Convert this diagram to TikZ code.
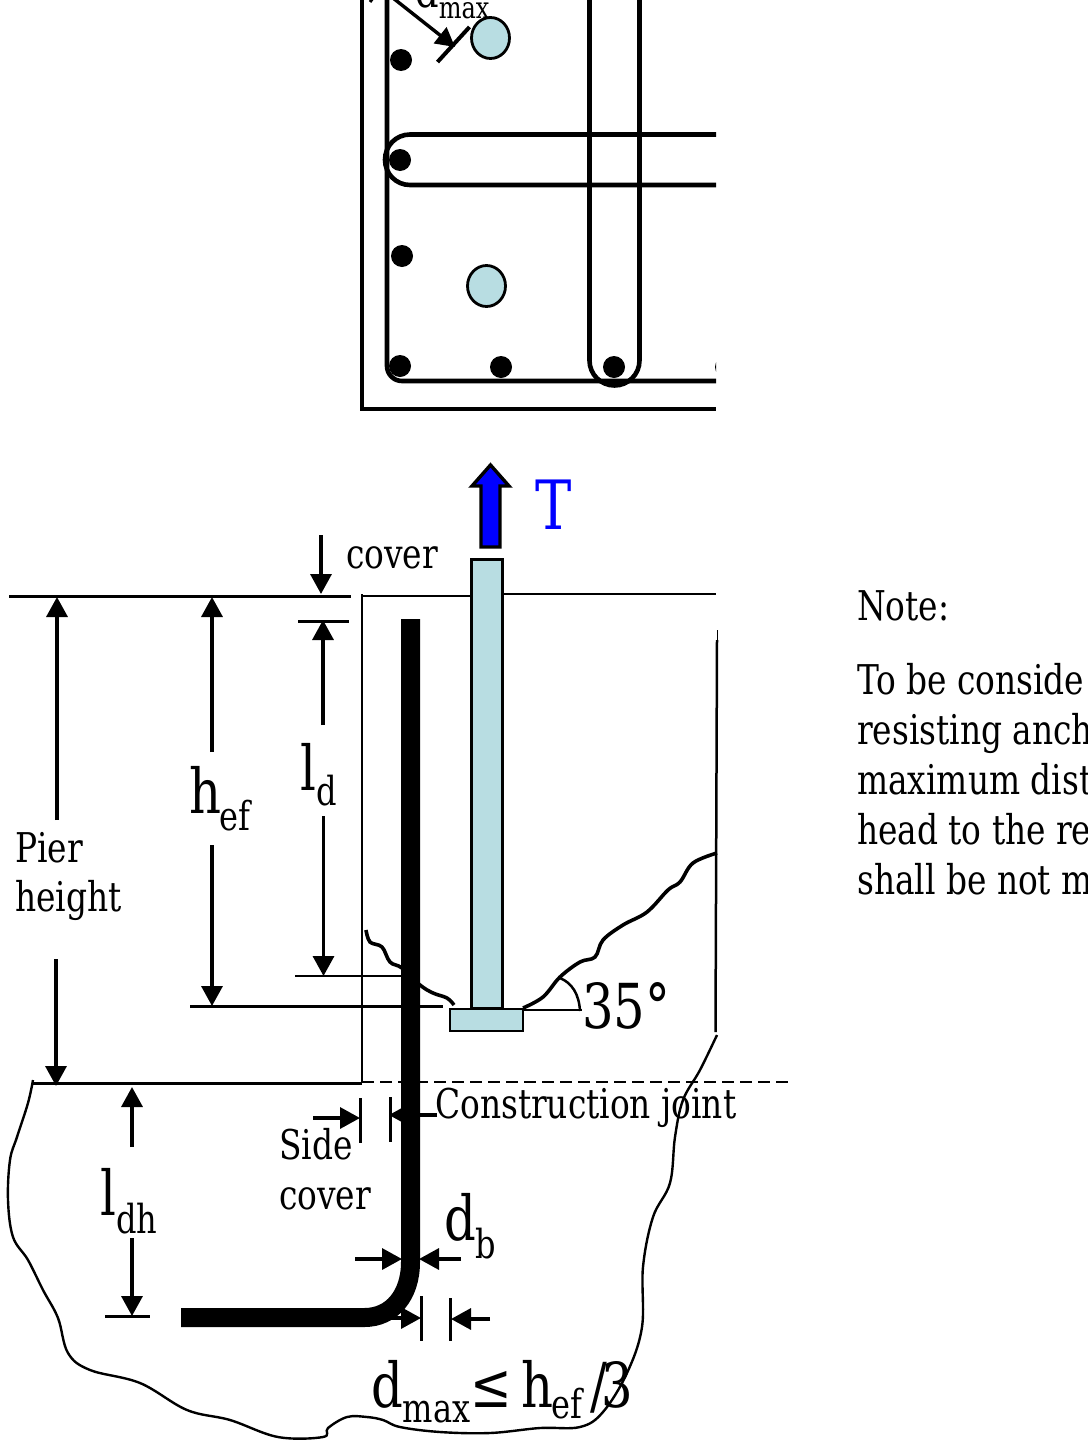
\documentclass[tikz,border=0pt]{standalone}
\usepackage{fontspec}
\setmainfont[FakeStretch=0.89]{DejaVu Serif Condensed}
\usetikzlibrary{arrows.meta}
\definecolor{anchorblue}{RGB}{184,221,226}
\newcommand{\sizedtxt}[1]{\fontsize{#1}{#1}\selectfont}
\newcommand{\subtxt}[3]{#1\raisebox{-#3pt}{\sizedtxt{40}#2}}
\tikzset{
  lbl/.style={inner sep=0,anchor=base west,font=\sizedtxt{41}},
  biglbl/.style={inner sep=0,anchor=base west,font=\sizedtxt{62}},
  dimarrow/.style={line width=3.4pt,-{Triangle[length=20pt,width=21pt]}},
  thick line/.style={line width=4.6pt},
  tick/.style={line width=3pt},
  bar/.style={fill=black},
  anchorbar/.style={fill=anchorblue,draw=black}
}
\begin{document}
\begin{tikzpicture}[x=1pt,y=-1pt]
   \useasboundingbox (0,0) rectangle (1087,1440);
   \clip (0,0) rectangle (1087,1440);
   % plan of the pier
   \begin{scope}
    \clip (340,0) rectangle (716,420);
    \draw[thick line] (362,0) -- (362,409) -- (716,409);
    \draw[thick line] (387,0) -- (387,366) .. controls (387,374.3) and (393.7,381) .. (402,381) -- (716,381);
    \draw[thick line] (716,134.5) -- (410,134.5) .. controls (396,134.5) and (385,145.8) .. (385,159.75) .. controls (385,173.7) and (396,185) .. (410,185) -- (716,185);
    \draw[thick line] (589.5,0) -- (589.5,360.5) .. controls (589.5,374.3) and (600.7,385.5) .. (614.5,385.5) .. controls (628.3,385.5) and (639.5,374.3) .. (639.5,360.5) -- (639.5,0);
    \foreach \x/\y in {401/60,400/160,402/256,400/366,501/367,614/367,726/367}
     \fill[bar] (\x,\y) circle (11);
   \end{scope}
   \draw[anchorbar,line width=2.8pt] (490.5,38) ellipse (19 and 20.5);
   \draw[anchorbar,line width=2.8pt] (486.5,286) ellipse (19 and 20.5);
   \draw[line width=3pt] (370,2) -- (373,-2);
   \draw[line width=3.4pt,-{Triangle[length=19pt,width=20pt]}] (393,-2) -- (455,47);
   \draw[line width=4pt] (437.5,62) -- (469.5,27);
   \node[inner sep=0,anchor=base west,font=\sizedtxt{46}] (dmaxplan) at (415,8) {\subtxt{d}{\sizedtxt{30}max}{11}};
   % section: concrete outline and failure cone
   \draw[line width=2.5pt] (362,596) -- (471,596);
   \draw[line width=2.5pt] (504,594) -- (716,594);
   \draw[line width=2.5pt] (362,594) -- (362,1083);
   \draw[line width=2.5pt] (717,640) -- (715.5,1032);
   \draw[line width=1pt] (717,630) -- (717,640);
   \draw[line width=1.8pt,dash pattern=on 12pt off 6pt] (362,1082) -- (790,1082);
   \draw[line width=2.4pt] plot[smooth,tension=0.6] coordinates {(33,1080) (28,1103) (17,1137) (10,1160) (8,1200) (13,1237) (28,1260) (43,1290) (58,1318) (68,1353) (90,1370) (140,1383) (187,1410) (230,1420) (278,1437) (323,1437) (328,1428) (347,1417) (367,1417) (383,1420) (400,1427) (440,1432) (490,1433) (540,1428) (580,1427) (603,1412) (627,1373) (642,1327) (643,1267) (653,1217) (670,1183) (675,1137) (683,1100) (700,1070) (717,1035)};
   \draw[line width=3.6pt] plot[smooth,tension=0.6] coordinates {(366,930) (370,942) (382,947) (390,962) (402,968) (420,985) (433,993) (447,998) (454,1005)};
   \draw[line width=3.6pt] plot[smooth,tension=0.6] coordinates {(523,1008) (543,997) (560,977) (580,962) (595,957) (603,940) (623,925) (647,912) (668,890) (680,882) (693,863) (717,853)};
   \draw[line width=2.5pt] (523,1010) -- (582,1010);
   \draw[line width=2.5pt] (560,978) .. controls (572,983) and (579,994) .. (580,1011);
   % rebar
   \draw[line width=19pt] (410.5,619) -- (410.5,1262) .. controls (410.5,1295) and (392,1317.5) .. (364.5,1317.5) -- (181,1317.5);
   % anchor and load
   \draw[anchorbar,line width=3.2pt] (471.5,559.5) rectangle (502.5,1009);
   \draw[anchorbar,line width=2.8pt] (450,1009) rectangle (523,1031);
   \draw[fill=blue,line width=3.4pt,line join=miter] (481,547) -- (481,486) -- (472,486) -- (490.5,465) -- (509,486) -- (500,486) -- (500,547) -- cycle;
   % dimension lines
   \draw[tick] (9,596) -- (351,596);
   \draw[tick] (33,1083) -- (362,1083);
   \draw[tick] (190,1006) -- (443,1006);
   \draw[tick] (298,621) -- (349,621);
   \draw[line width=2pt] (295,976) -- (402,976);
   \draw[tick] (105,1316) -- (150,1316);
   \draw[dimarrow] (57,820) -- (57,597);
   \draw[dimarrow] (56,959) -- (56,1086);
   \draw[dimarrow] (212,752) -- (212,597);
   \draw[dimarrow] (212,845) -- (212,1006);
   \draw[dimarrow] (323,725) -- (323,620);
   \draw[dimarrow] (323.5,816) -- (323.5,976);
   \draw[dimarrow] (321,535) -- (321,594);
   \draw[dimarrow] (132,1147) -- (132,1087);
   \draw[dimarrow] (132,1238) -- (132,1316);
   \draw[dimarrow] (313,1118) -- (360,1118);
   \draw[dimarrow] (437,1115) -- (389,1115);
   \draw[tick] (360.5,1098) -- (360.5,1143);
   \draw[tick] (390,1097) -- (390,1142);
   \draw[dimarrow] (355,1259) -- (402,1259);
   \draw[dimarrow] (461,1259) -- (419,1259);
   \draw[dimarrow] (390,1318) -- (421,1318);
   \draw[dimarrow] (490,1319) -- (451,1319);
   \draw[tick] (421.5,1296) -- (421.5,1341);
   \draw[tick] (450,1298) -- (450,1341);
   % labels
   \node[inner sep=0,anchor=base west,font=\sizedtxt{68},text=blue] (tload) at (535,529) {T};
   \node[lbl] (coverlbl) at (346,568) {cover};
   \node[lbl] (pierlbl) at (15,862) {Pier};
   \node[lbl] (heightlbl) at (15,911) {height};
   \node[biglbl] (hef) at (189,813) {\subtxt{h\kern-2pt}{ef}{17}};
   \node[biglbl] (ld) at (300,790) {\subtxt{l}{d}{15}};
   \node[biglbl] (angle) at (582,1028) {35°};
   \node[lbl] (joint) at (435,1118) {Construction joint};
   \node[lbl] (sidelbl) at (279,1159) {Side};
   \node[lbl] (sidecover) at (279,1209) {cover};
   \node[biglbl] (ldh) at (100,1215) {\subtxt{l}{dh}{18}};
   \node[biglbl] (db) at (444,1240) {\subtxt{d}{b}{18}};
   \node[biglbl] (dmax) at (371,1407) {\makebox[99pt][l]{\subtxt{d}{max}{15}}\makebox[51pt][l]{≤}\makebox[69pt][l]{\subtxt{h\kern-2pt}{ef}{11}}/\kern-5pt 3};
   \node[lbl] (note) at (857,620) {Note:};
   \node[lbl] (noteone) at (857,694) {To be conside};
   \node[lbl] (notetwo) at (857,744) {resisting ancho};
   \node[lbl] (notethree) at (857,794) {maximum dist};
   \node[lbl] (notefour) at (857,844) {head to the rei};
   \node[lbl] (notefive) at (857,894) {shall be not m};
  \end{tikzpicture}
\end{document}
